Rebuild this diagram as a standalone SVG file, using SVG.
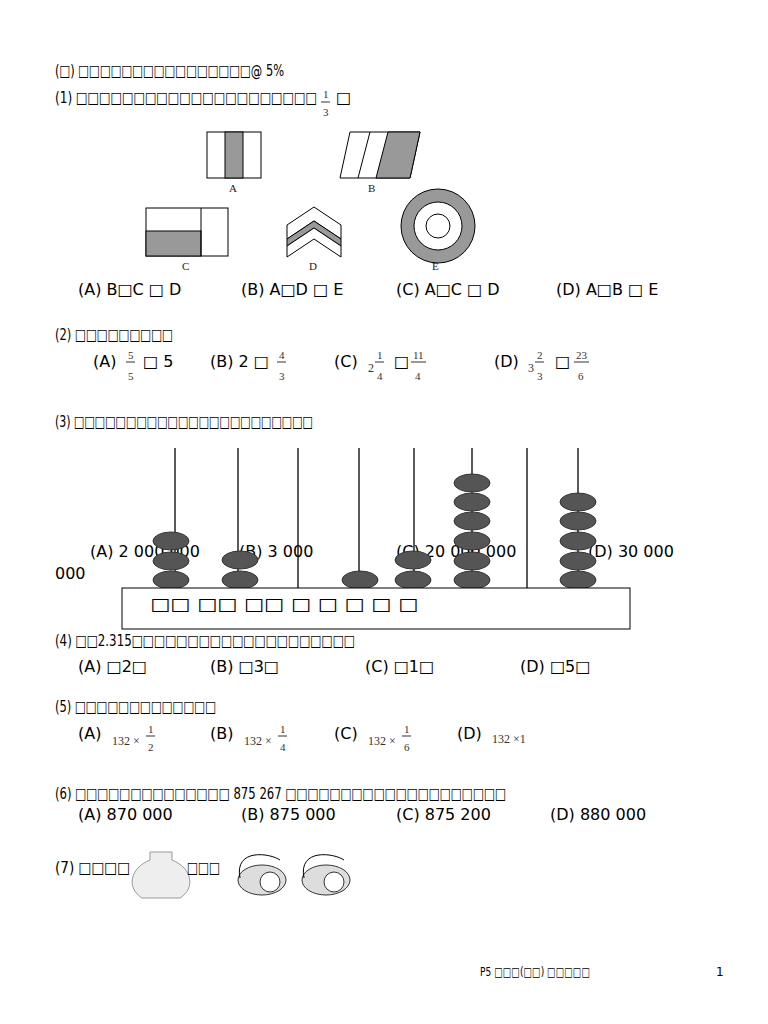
<svg xmlns="http://www.w3.org/2000/svg" width="768" height="1024" viewBox="0 0 768 1024">
<style>
text{font-family:"DejaVu Sans",sans-serif;font-size:16px;fill:#000}
.f{font-family:"Liberation Serif",serif;font-size:11px;fill:#333}
.fl{font-family:"Liberation Serif",serif;font-size:12px;fill:#333}
.lb{font-family:"Liberation Serif",serif;font-size:11px;fill:#222}
.sm{font-size:12px}
.bead{fill:#555;stroke:#333;stroke-width:1}
.rod{stroke:#000;stroke-width:1.3}
.ln{stroke:#000;stroke-width:1;fill:none}
</style>
<rect width="768" height="1024" fill="#fff"/>
<text x="55" y="76" textLength="229" lengthAdjust="spacingAndGlyphs">(□) □□□□□□□□□□□□□□□□@ 5%</text>
<text x="55" y="103" textLength="262" lengthAdjust="spacingAndGlyphs">(1) □□□□□□□□□□□□□□□□□□□□□</text>
<text class="f" x="323" y="98">1</text><line x1="321" y1="102" x2="330" y2="102" stroke="#333"/><text class="f" x="323" y="116">3</text>
<text x="336" y="103">□</text>
<g id="figA"><rect x="207" y="132" width="54" height="46" class="ln"/><rect x="225" y="132" width="18" height="46" fill="#999" stroke="#000"/><text class="lb" x="229" y="192">A</text></g>
<g id="figB"><polygon points="350,132 420,132 410,178 340,178" class="ln"/><polygon points="388,132 420,132 410,178 376,178" fill="#999" stroke="#000"/><line x1="370" y1="132" x2="358" y2="178" class="ln"/><text class="lb" x="368" y="192">B</text></g>
<g id="figC"><rect x="146" y="208" width="82" height="48" class="ln"/><rect x="146" y="231" width="55" height="25" fill="#999" stroke="#000"/><line x1="201" y1="208" x2="201" y2="256" class="ln"/><text class="lb" x="182" y="270">C</text></g>
<g id="figD"><polygon points="287,225 314,207 341,225 341,239 314,221 287,239" fill="#fff" stroke="#000"/><polygon points="287,239 314,221 341,239 341,246 314,228 287,246" fill="#999" stroke="#000"/><polygon points="287,246 314,228 341,246 341,257 314,239 287,257" fill="#fff" stroke="#000"/><text class="lb" x="309" y="270">D</text></g>
<g id="figE"><circle cx="438" cy="226" r="37" fill="#999" stroke="#000"/><circle cx="438" cy="226" r="24" fill="#fff" stroke="#000"/><circle cx="438" cy="226" r="12" fill="#fff" stroke="#000"/><text class="lb" x="432" y="270">E</text></g>
<text x="78" y="295">(A) B□C □ D</text><text x="241" y="295">(B) A□D □ E</text><text x="396" y="295">(C) A□C □ D</text><text x="556" y="295">(D) A□B □ E</text>
<text x="55" y="340" textLength="118" lengthAdjust="spacingAndGlyphs">(2) □□□□□□□□□</text>
<text x="93" y="367">(A)</text><text class="f" x="128" y="359">5</text><line x1="126" y1="362" x2="135" y2="362" stroke="#333"/><text class="f" x="128" y="380">5</text><text x="143" y="367">□ 5</text>
<text x="210" y="367">(B) 2 □</text><text class="f" x="279" y="359">4</text><line x1="277" y1="362" x2="286" y2="362" stroke="#333"/><text class="f" x="279" y="380">3</text>
<text x="334" y="367">(C)</text><text class="fl" x="368" y="372">2</text><text class="f" x="377" y="359">1</text><line x1="375" y1="362" x2="384" y2="362" stroke="#333"/><text class="f" x="377" y="380">4</text><text x="394" y="367">□</text><text class="f" x="413" y="359">11</text><line x1="411" y1="362" x2="426" y2="362" stroke="#333"/><text class="f" x="415" y="380">4</text>
<text x="494" y="367">(D)</text><text class="fl" x="528" y="372">3</text><text class="f" x="537" y="359">2</text><line x1="535" y1="362" x2="544" y2="362" stroke="#333"/><text class="f" x="537" y="380">3</text><text x="555" y="367">□</text><text class="f" x="576" y="359">23</text><line x1="574" y1="362" x2="589" y2="362" stroke="#333"/><text class="f" x="578" y="380">6</text>
<text x="55" y="427" textLength="258" lengthAdjust="spacingAndGlyphs">(3) □□□□□□□□□□□□□□□□□□□□□□□</text>
<g id="abacus">
<line class="rod" x1="175" y1="448" x2="175" y2="588"/><line class="rod" x1="238" y1="448" x2="238" y2="588"/><line class="rod" x1="298" y1="448" x2="298" y2="588"/><line class="rod" x1="359" y1="448" x2="359" y2="588"/><line class="rod" x1="414" y1="448" x2="414" y2="588"/><line class="rod" x1="472" y1="448" x2="472" y2="588"/><line class="rod" x1="527" y1="448" x2="527" y2="588"/><line class="rod" x1="578" y1="448" x2="578" y2="588"/>
<text x="90" y="557">(A) 2 000 000</text><text x="239" y="557">(B) 3 000</text><text x="396" y="557">(C) 20 000 000</text><text x="588" y="557">(D) 30 000</text><text x="55" y="579">000</text>
<ellipse class="bead" cx="171" cy="541" rx="18" ry="9"/><ellipse class="bead" cx="171" cy="561" rx="18" ry="9"/><ellipse class="bead" cx="171" cy="580" rx="18" ry="9"/>
<ellipse class="bead" cx="240" cy="560" rx="18" ry="9"/><ellipse class="bead" cx="240" cy="580" rx="18" ry="9"/>
<ellipse class="bead" cx="360" cy="580" rx="18" ry="9"/>
<ellipse class="bead" cx="413" cy="560" rx="18" ry="9"/><ellipse class="bead" cx="413" cy="580" rx="18" ry="9"/>
<ellipse class="bead" cx="472" cy="483" rx="18" ry="9"/><ellipse class="bead" cx="472" cy="502" rx="18" ry="9"/><ellipse class="bead" cx="472" cy="521" rx="18" ry="9"/><ellipse class="bead" cx="472" cy="541" rx="18" ry="9"/><ellipse class="bead" cx="472" cy="561" rx="18" ry="9"/><ellipse class="bead" cx="472" cy="580" rx="18" ry="9"/>
<ellipse class="bead" cx="578" cy="502" rx="18" ry="9"/><ellipse class="bead" cx="578" cy="521" rx="18" ry="9"/><ellipse class="bead" cx="578" cy="541" rx="18" ry="9"/><ellipse class="bead" cx="578" cy="561" rx="18" ry="9"/><ellipse class="bead" cx="578" cy="580" rx="18" ry="9"/>
<rect x="122" y="588" width="508" height="41" fill="#fff" stroke="#000"/>
<text x="150" y="610" style="font-size:17px" textLength="268" lengthAdjust="spacingAndGlyphs">□□ □□ □□  □  □   □  □  □</text>
</g>
<text x="55" y="646" textLength="300" lengthAdjust="spacingAndGlyphs">(4) □□2.315□□□□□□□□□□□□□□□□□□□□</text>
<text x="78" y="672">(A) □2□</text><text x="210" y="672">(B) □3□</text><text x="365" y="672">(C) □1□</text><text x="520" y="672">(D) □5□</text>
<text x="55" y="712" textLength="161" lengthAdjust="spacingAndGlyphs">(5) □□□□□□□□□□□□□</text>
<text x="78" y="739">(A)</text><text class="fl" x="112" y="745">132 ×</text><text class="f" x="148" y="733">1</text><line x1="146" y1="736" x2="155" y2="736" stroke="#333"/><text class="f" x="148" y="751">2</text>
<text x="210" y="739">(B)</text><text class="fl" x="244" y="745">132 ×</text><text class="f" x="280" y="733">1</text><line x1="278" y1="736" x2="287" y2="736" stroke="#333"/><text class="f" x="280" y="751">4</text>
<text x="334" y="739">(C)</text><text class="fl" x="368" y="745">132 ×</text><text class="f" x="404" y="733">1</text><line x1="402" y1="736" x2="411" y2="736" stroke="#333"/><text class="f" x="404" y="751">6</text>
<text x="457" y="739">(D)</text><text class="fl" x="492" y="743">132 ×1</text>
<text x="55" y="799" textLength="451" lengthAdjust="spacingAndGlyphs">(6) □□□□□□□□□□□□□□ 875 267 □□□□□□□□□□□□□□□□□□□□</text>
<text x="78" y="820">(A) 870 000</text><text x="241" y="820">(B) 875 000</text><text x="396" y="820">(C) 875 200</text><text x="550" y="820">(D) 880 000</text>
<text x="55" y="873" textLength="75" lengthAdjust="spacingAndGlyphs">(7) □□□□</text>
<g id="vase"><path d="M150,852 h22 v8 c20,8 24,28 8,38 h-38 c-16,-10 -12,-30 8,-38 z" fill="#eee" stroke="#999"/></g>
<text x="187" y="873" textLength="33" lengthAdjust="spacingAndGlyphs">□□□</text>
<g id="cam1"><ellipse cx="262" cy="880" rx="24" ry="15" fill="#ddd" stroke="#333"/><circle cx="270" cy="882" r="10" fill="#fff" stroke="#333"/><path d="M240,878 c-6,-30 30,-25 40,-18" class="ln"/></g>
<g id="cam2"><ellipse cx="326" cy="880" rx="24" ry="15" fill="#ddd" stroke="#333"/><circle cx="334" cy="882" r="10" fill="#fff" stroke="#333"/><path d="M304,878 c-6,-30 30,-25 40,-18" class="ln"/></g>
<text class="sm" x="480" y="976" textLength="110" lengthAdjust="spacingAndGlyphs">P5 □□□(□□) □□□□□</text><text class="sm" x="716" y="976">1</text>
</svg>
